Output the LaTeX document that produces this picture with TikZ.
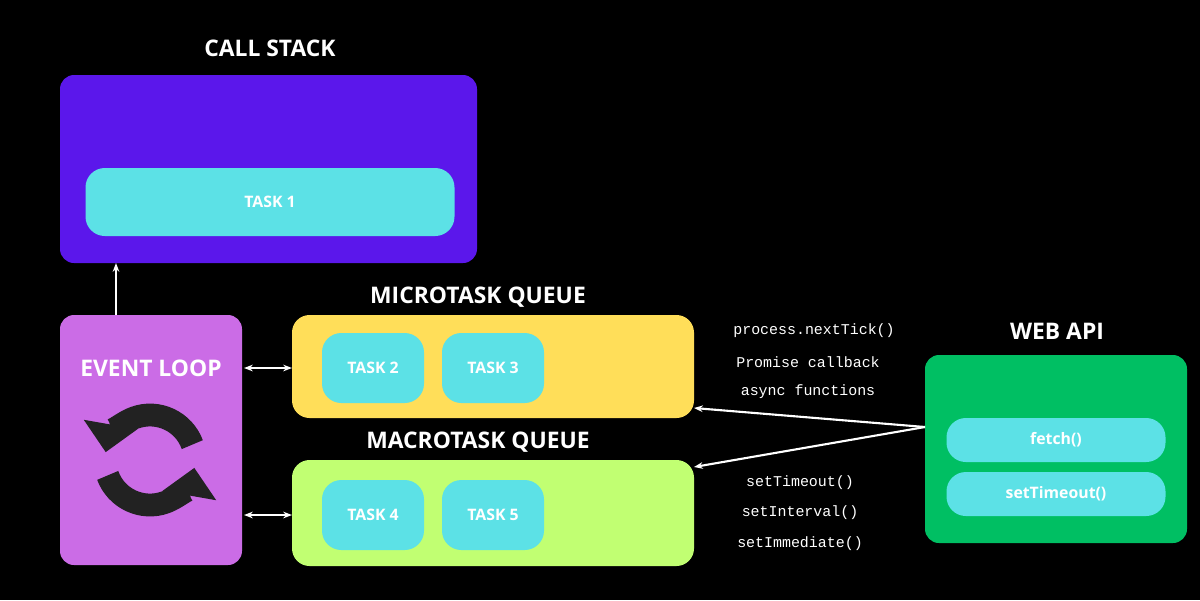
\documentclass[tikz,border=0pt]{standalone}
\usepackage{fontspec}
\setmainfont{Open Sans}
\setmonofont{Liberation Mono}
\usepackage{tikz}
\usetikzlibrary{positioning,arrows.meta}

\definecolor{stackviolet}{HTML}{5B17EB}
\definecolor{taskcyan}{HTML}{5CE1E6}
\definecolor{loopviolet}{HTML}{CB6CE6}
\definecolor{microyellow}{HTML}{FFDE59}
\definecolor{macrolime}{HTML}{C1FF72}
\definecolor{apigreen}{HTML}{00BF63}
\definecolor{icondark}{HTML}{222222}

\tikzset{
  panel/.style={rounded corners=14pt, inner sep=0pt},
  task/.style={draw=none, fill=taskcyan, rounded corners=11pt, text=white, font=\bfseries\fontsize{9}{10}\selectfont},
  heading/.style={text=white, font=\bfseries\fontsize{13}{15}\selectfont},
  apinote/.style={text=white, font=\ttfamily\fontsize{8.5}{10}\selectfont},
  link/.style={white, line width=1.2pt, -{Stealth[length=5pt]}},
  twoway/.style={white, line width=1.2pt, {Stealth[length=5pt]}-{Stealth[length=5pt]}}
}

\begin{document}
\begin{tikzpicture}[x=0.02cm, y=-0.02cm]
\fill[black] (0,0) rectangle (1200,600);
\useasboundingbox (0,0) rectangle (1200,600);

% call stack
\node[heading] (stack_title) at (270,48) {CALL STACK};
\fill[stackviolet, rounded corners=8pt] (60,75) rectangle (477,263);
\coordinate (stack_bottom) at (116,263);
\node[task, minimum width=369*0.02cm, minimum height=68*0.02cm] (task_1) at (270,202) {TASK 1};

% event loop
\fill[loopviolet, rounded corners=8pt] (60,315) rectangle (242,565);
\node[heading] (loop_title) at (151,368) {EVENT LOOP};
\coordinate (loop_top) at (116,315);
\coordinate (loop_micro) at (244,368);
\coordinate (loop_macro) at (244,515);
\draw[icondark, line width=13pt, -{Triangle[length=16pt, width=30pt]}] (150,460) ++(160:45) arc (160:10:45);
\draw[icondark, line width=13pt, -{Triangle[length=16pt, width=30pt]}] (150,460) ++(340:45) arc (340:190:45);

% microtask queue
\node[heading] (micro_title) at (478,297) {MICROTASK QUEUE};
\fill[microyellow, rounded corners=10pt] (292,315) rectangle (694,418);
\coordinate (micro_left) at (292,368);
\coordinate (micro_right) at (694,408);
\node[task, minimum width=102*0.02cm, minimum height=70*0.02cm] (task_2) at (373,368) {TASK 2};
\node[task, minimum width=102*0.02cm, minimum height=70*0.02cm] (task_3) at (493,368) {TASK 3};

% macrotask queue
\node[heading] (macro_title) at (478,442) {MACROTASK QUEUE};
\fill[macrolime, rounded corners=10pt] (292,460) rectangle (694,566);
\coordinate (macro_left) at (292,515);
\coordinate (macro_right) at (694,467);
\node[task, minimum width=102*0.02cm, minimum height=70*0.02cm] (task_4) at (373,515) {TASK 4};
\node[task, minimum width=102*0.02cm, minimum height=70*0.02cm] (task_5) at (493,515) {TASK 5};

% web api
\node[heading] (api_title) at (1057,331) {WEB API};
\fill[apigreen, rounded corners=8pt] (925,355) rectangle (1187,543);
\coordinate (api_left) at (925,427);
\node[task, minimum width=219*0.02cm, minimum height=44*0.02cm] (api_fetch) at (1056,440) {fetch()};
\node[task, minimum width=219*0.02cm, minimum height=44*0.02cm] (api_timeout) at (1056,494) {setTimeout()};

% api notes
\node[apinote] (note_tick) at (814,331) {process.nextTick()};
\node[apinote] (note_promise) at (808,362) {Promise callback};
\node[apinote] (note_async) at (808,392) {async functions};
\node[apinote] (note_timeout) at (800,483) {setTimeout()};
\node[apinote] (note_interval) at (800,513) {setInterval()};
\node[apinote] (note_immediate) at (800,544) {setImmediate()};

% connectors
\draw[link] (loop_top) -- (stack_bottom);
\draw[twoway] (loop_micro) -- (micro_left);
\draw[twoway] (loop_macro) -- (macro_left);
\draw[link] (api_left) -- (micro_right);
\draw[link] (api_left) -- (macro_right);
\end{tikzpicture}
\end{document}
